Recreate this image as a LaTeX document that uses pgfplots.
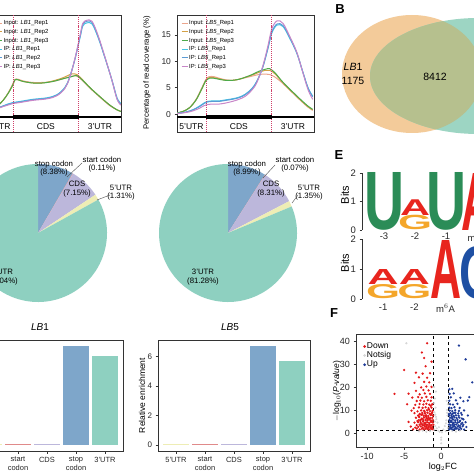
\documentclass[border={-100pt -100pt -126pt -126pt}]{standalone}
\usepackage{pgfplots}
\pgfplotsset{compat=1.18}
\usepackage{fontspec}
\setmainfont{Liberation Sans}
\usepackage{graphicx}

\definecolor{inA}{HTML}{EBA58C}
\definecolor{inB}{HTML}{D4A046}
\definecolor{inC}{HTML}{4DAA4A}
\definecolor{ipA}{HTML}{45C3E3}
\definecolor{ipB}{HTML}{5B9BD5}
\definecolor{ipC}{HTML}{C886C8}
\definecolor{c5}{HTML}{EEEDB5}
\definecolor{cst}{HTML}{E08A8A}
\definecolor{ccds}{HTML}{BCB7DB}
\definecolor{csp}{HTML}{7EA6CA}
\definecolor{c3}{HTML}{8ED0C0}
\definecolor{vOr}{HTML}{F3CB9A}
\definecolor{vGr}{HTML}{9DD5C3}
\definecolor{vOl}{HTML}{B6C08E}
\definecolor{lgU}{HTML}{2B8C57}
\definecolor{lgA}{HTML}{E8251E}
\definecolor{lgG}{HTML}{F4A62A}
\definecolor{lgC}{HTML}{1E4FA3}
\definecolor{vRed}{HTML}{E31A1C}
\definecolor{vBlue}{HTML}{1F3C98}
\definecolor{vGrey}{HTML}{D6D6D6}
\definecolor{axc}{HTML}{333333}
\definecolor{dotc}{HTML}{D0406A}

\newcommand{\fs}[1]{\fontsize{#1}{#1}\selectfont}

\pgfplotsset{
  base/.style={scale only axis, anchor=south west,
    /pgf/number format/assume math mode=true,
    axis line style={axc, line width=0.8pt},
    tick style={axc, line width=0.6pt},
    major tick length=2.5pt, tick align=outside,
    ticklabel style={font=\fs{8}, text=black!85}},
  meta/.style={base, width=137pt, height=117pt,
    xmin=0.56, xmax=2.64, ymin=-3.4, ymax=18.8,
    xtick=\empty, ytick={0,5,10,15}, ytick pos=left,
    ticklabel style={font=\fs{8.5}},
    legend style={at={(rel axis cs:0.03,0.965)}, anchor=north west, draw=none, fill=none,
      font=\fs{5.9}, inner sep=0pt, outer sep=0pt, row sep=0.7pt,
      nodes={inner sep=1pt, text height=4.6pt, text depth=1.4pt}},
    legend cell align=left,
    legend image code/.code={\draw[##1, line width=1pt] (0pt,0pt) -- (6pt,0pt);},
    every axis plot/.append style={smooth, line width=1pt, tension=0.55},
  },
  bars/.style={base, width=152pt, height=111pt,
    xmin=-0.62, xmax=4.62, ymin=-0.41, ymax=7.14,
    xtick={0,1,2,3,4}, xticklabels={5'UTR,start\\codon,CDS,stop\\codon,3'UTR},
    xticklabel style={align=center, font=\fontsize{7.5}{8.5}\selectfont},
    ytick={0,2,4,6}, xtick pos=bottom, ytick pos=left},
  logo/.style={base, width=146pt, ymin=0, ymax=2,
    axis x line*=bottom, axis y line*=left, x axis line style={draw=none},
    xtick={0,1,2,3}, xtick style={draw=none}, ytick={0,1,2}, clip=false,
    ticklabel style={font=\fs{9.5}}},
  volc/.style={base, width=174pt, height=112pt,
    xmin=-11.5, xmax=12, ymin=-6.1, ymax=42.6,
    xtick={-10,-5,0,5,10}, ytick={0,10,20,30,40}, xtick pos=bottom, ytick pos=left,
    ticklabel style={font=\fs{9}},
    axis line style={axc, line width=1pt},
    xlabel={log$_2$FC}, xlabel style={font=\fs{9}, yshift=3pt},
    legend style={at={(rel axis cs:0.04,0.94)}, anchor=north west, draw=none, fill=none,
      font=\fs{8.5}, inner sep=0pt, row sep=0pt,
      nodes={inner sep=0.8pt, text height=6pt, text depth=1.5pt}},
    legend cell align=left,
    legend image code/.code={\draw[mark repeat=2,mark phase=2,##1] plot coordinates {(0pt,0pt) (2pt,0pt) (4pt,0pt)};},
    legend image post style={mark size=1.5pt}},
}

\newcommand{\piechart}[3]{%
  \begin{scope}[shift={(#1pt,#2pt)}]
  \gdef\pieang{90}%
  \foreach \p/\c in {#3}{%
    \pgfmathsetmacro\pieend{\pieang-3.6*\p}%
    \fill[\c] (0pt,0pt) -- (\pieang:69pt) arc[start angle=\pieang, end angle=\pieend, radius=69pt] -- cycle;
    \global\let\pieang\pieend
  }%
  \end{scope}}

\newcommand{\letter}[6]{% x, y0, width, height, colour, letter
  \node[inner sep=0pt, outer sep=0pt, anchor=south] at (axis cs:#1,#2) {\resizebox{#3pt}{#4pt}{\bfseries\color{#5}#6}};}

\begin{document}
\begin{tikzpicture}
\path (-100pt,-100pt) rectangle (600pt,600pt);

%================ A left (LB1)
\begin{axis}[meta, at={(-16pt,342pt)}, legend style={at={(rel axis cs:0.085,0.965)}}]
\addplot[inA] coordinates {(0.56,0.4) (0.65,0.7) (0.75,1.4) (0.85,2.6) (0.93,4.1) (1.0,5.8) (1.03,6.6) (1.08,6.6) (1.15,6.3) (1.3,6.0) (1.45,6.0) (1.61,6.2) (1.76,6.7) (1.89,7.2) (1.97,7.2) (2.05,6.4) (2.17,4.9) (2.32,3.2) (2.47,1.6) (2.58,0.8) (2.64,0.5)};
\addlegendentry{Input: \textit{LB1}\_Rep1}
\addplot[inB] coordinates {(0.56,0.4) (0.65,0.7) (0.75,1.4) (0.85,2.6) (0.93,4.0) (1.0,5.6) (1.03,6.5) (1.08,6.5) (1.15,6.2) (1.3,5.9) (1.45,5.9) (1.61,6.3) (1.76,6.9) (1.89,7.6) (1.97,7.5) (2.05,6.6) (2.17,5.0) (2.32,3.3) (2.47,1.7) (2.58,0.8) (2.64,0.5)};
\addlegendentry{Input: \textit{LB1}\_Rep2}
\addplot[inC] coordinates {(0.56,0.4) (0.65,0.7) (0.75,1.4) (0.85,2.6) (0.93,4.0) (1.0,5.6) (1.03,6.5) (1.08,6.5) (1.15,6.2) (1.3,5.9) (1.45,5.9) (1.61,6.2) (1.76,6.7) (1.89,7.1) (1.97,7.3) (2.05,6.5) (2.17,5.0) (2.32,3.3) (2.47,1.7) (2.58,0.8) (2.64,0.5)};
\addlegendentry{Input: \textit{LB1}\_Rep3}
\addplot[ipA] coordinates {(0.56,0.3) (0.7,0.7) (0.8,1.3) (0.92,1.9) (1.0,2.2) (1.11,2.4) (1.3,2.8) (1.52,3.1) (1.67,3.7) (1.79,5.1) (1.86,7.0) (1.94,10.4) (2.02,14.6) (2.06,16.7) (2.12,17.3) (2.2,17.1) (2.29,14.6) (2.39,10.9) (2.5,6.6) (2.58,3.1) (2.64,2.0)};
\addlegendentry{IP: \textit{LB1}\_Rep1}
\addplot[ipB] coordinates {(0.56,0.3) (0.7,0.7) (0.8,1.3) (0.92,1.8) (1.0,2.1) (1.11,2.3) (1.3,2.7) (1.52,3.0) (1.67,3.6) (1.79,5.0) (1.86,6.9) (1.94,10.4) (2.02,14.8) (2.06,17.0) (2.12,17.6) (2.2,17.4) (2.29,14.8) (2.39,11.0) (2.5,6.5) (2.58,2.9) (2.64,1.8)};
\addlegendentry{IP: \textit{LB1}\_Rep2}
\addplot[ipC] coordinates {(0.56,0.3) (0.7,0.6) (0.8,1.2) (0.92,1.7) (1.0,2.0) (1.11,2.2) (1.3,2.6) (1.52,2.9) (1.67,3.5) (1.79,4.9) (1.86,6.9) (1.94,10.5) (2.02,15.0) (2.06,17.2) (2.12,17.8) (2.2,17.6) (2.29,15.0) (2.39,11.1) (2.5,6.5) (2.58,2.8) (2.64,1.7)};
\addlegendentry{IP: \textit{LB1}\_Rep3}
\addplot[dotc, densely dotted, line width=0.7pt, forget plot] coordinates {(1,-3.4) (1,18.8)};
\addplot[dotc, densely dotted, line width=0.7pt, forget plot] coordinates {(2,-3.4) (2,18.8)};
\addplot[black, line width=2.5pt, forget plot, sharp plot] coordinates {(0.56,-0.6) (2.64,-0.6)};
\addplot[black, line width=3.5pt, forget plot, sharp plot] coordinates {(1,-0.6) (2,-0.6)};
\node[font=\fs{8.5}] at (axis cs:0.78,-2.3) {5'UTR};
\node[font=\fs{8.5}] at (axis cs:1.5,-2.3) {CDS};
\node[font=\fs{8.5}] at (axis cs:2.32,-2.3) {3'UTR};
\end{axis}

%================ A right (LB5)
\begin{axis}[meta, at={(177pt,342pt)}]
\addplot[inA] coordinates {(0.56,0.2) (0.65,0.5) (0.75,1.2) (0.85,2.8) (0.93,4.8) (1.0,6.6) (1.05,7.1) (1.12,7.1) (1.2,6.8) (1.3,6.5) (1.4,6.4) (1.5,6.6) (1.6,6.9) (1.7,7.2) (1.8,7.5) (1.9,7.6) (1.97,7.5) (2.05,7.0) (2.15,6.0) (2.25,4.8) (2.35,3.6) (2.45,2.4) (2.55,1.3) (2.62,0.7)};
\addlegendentry{Input: \textit{LB5}\_Rep1}
\addplot[inB] coordinates {(0.56,0.2) (0.65,0.5) (0.75,1.2) (0.85,2.7) (0.93,4.6) (1.0,6.4) (1.05,6.9) (1.12,6.9) (1.2,6.7) (1.3,6.4) (1.4,6.4) (1.5,6.6) (1.6,7.0) (1.7,7.4) (1.8,7.9) (1.9,8.3) (1.97,8.3) (2.05,7.6) (2.15,6.2) (2.25,4.9) (2.35,3.7) (2.45,2.5) (2.55,1.4) (2.62,0.8)};
\addlegendentry{Input: \textit{LB5}\_Rep2}
\addplot[inC] coordinates {(0.56,0.2) (0.65,0.5) (0.75,1.2) (0.85,2.7) (0.93,4.6) (1.0,6.4) (1.05,6.8) (1.12,6.8) (1.2,6.6) (1.3,6.4) (1.4,6.4) (1.5,6.6) (1.6,7.0) (1.7,7.5) (1.8,8.1) (1.9,8.5) (1.97,8.6) (2.05,7.8) (2.15,6.3) (2.25,5.0) (2.35,3.8) (2.45,2.6) (2.55,1.5) (2.62,0.9)};
\addlegendentry{Input: \textit{LB5}\_Rep3}
\addplot[ipA] coordinates {(0.56,0.1) (0.7,0.4) (0.8,0.8) (0.9,1.5) (0.97,2.1) (1.02,2.4) (1.1,2.5) (1.2,2.5) (1.3,2.7) (1.4,2.9) (1.5,3.2) (1.6,3.8) (1.7,4.9) (1.77,6.2) (1.86,8.8) (1.94,12.4) (2.0,15.4) (2.08,16.9) (2.17,16.6) (2.27,14.4) (2.38,11.5) (2.47,8.0) (2.55,5.0) (2.62,3.4)};
\addlegendentry{IP: \textit{LB5}\_Rep1}
\addplot[ipB] coordinates {(0.56,0.1) (0.7,0.4) (0.8,0.8) (0.9,1.4) (0.97,2.0) (1.02,2.3) (1.1,2.4) (1.2,2.4) (1.3,2.6) (1.4,2.8) (1.5,3.1) (1.6,3.7) (1.7,4.8) (1.77,6.1) (1.86,8.8) (1.94,12.5) (2.0,15.6) (2.08,17.1) (2.17,16.8) (2.27,14.6) (2.38,11.6) (2.47,8.0) (2.55,4.9) (2.62,3.3)};
\addlegendentry{IP: \textit{LB5}\_Rep1}
\addplot[ipC] coordinates {(0.56,0.1) (0.7,0.3) (0.8,0.6) (0.9,1.1) (0.97,1.6) (1.02,1.8) (1.1,1.9) (1.2,1.9) (1.3,2.1) (1.4,2.4) (1.5,2.8) (1.6,3.4) (1.7,4.6) (1.77,5.9) (1.86,9.0) (1.94,12.9) (2.0,16.2) (2.08,17.7) (2.17,17.2) (2.27,14.8) (2.38,11.7) (2.47,7.9) (2.55,4.6) (2.62,2.8)};
\addlegendentry{IP: \textit{LB5}\_Rep3}
\addplot[dotc, densely dotted, line width=0.7pt, forget plot] coordinates {(1,-3.4) (1,18.8)};
\addplot[dotc, densely dotted, line width=0.7pt, forget plot] coordinates {(2,-3.4) (2,18.8)};
\addplot[black, line width=2.5pt, forget plot, sharp plot] coordinates {(0.56,-0.6) (2.64,-0.6)};
\addplot[black, line width=3.5pt, forget plot, sharp plot] coordinates {(1,-0.6) (2,-0.6)};
\node[font=\fs{8.5}] at (axis cs:0.78,-2.3) {5'UTR};
\node[font=\fs{8.5}] at (axis cs:1.5,-2.3) {CDS};
\node[font=\fs{8.5}] at (axis cs:2.32,-2.3) {3'UTR};
\end{axis}

%================ D bars
\begin{axis}[bars, at={(-29pt,23pt)}]
\addplot[ybar, bar width=0.9, bar shift=0pt, fill=c5, draw=none] coordinates {(0,0.1)};
\addplot[ybar, bar width=0.9, bar shift=0pt, fill=cst, draw=none] coordinates {(1,0.1)};
\addplot[ybar, bar width=0.9, bar shift=0pt, fill=ccds, draw=none] coordinates {(2,0.1)};
\addplot[ybar, bar width=0.9, bar shift=0pt, fill=csp, draw=none] coordinates {(3,6.73)};
\addplot[ybar, bar width=0.9, bar shift=0pt, fill=c3, draw=none] coordinates {(4,6.05)};
\end{axis}
\begin{axis}[bars, at={(158pt,23pt)}]
\addplot[ybar, bar width=0.9, bar shift=0pt, fill=c5, draw=none] coordinates {(0,0.1)};
\addplot[ybar, bar width=0.9, bar shift=0pt, fill=cst, draw=none] coordinates {(1,0.1)};
\addplot[ybar, bar width=0.9, bar shift=0pt, fill=ccds, draw=none] coordinates {(2,0.1)};
\addplot[ybar, bar width=0.9, bar shift=0pt, fill=csp, draw=none] coordinates {(3,6.73)};
\addplot[ybar, bar width=0.9, bar shift=0pt, fill=c3, draw=none] coordinates {(4,5.71)};
\end{axis}

%================ E logos
\begin{axis}[logo, at={(362pt,244pt)}, height=57pt, xmin=-0.71, xmax=4,
  xticklabels={-3,-2,-1,m$^6$A}, xticklabel style={yshift=3pt}]
\letter{0}{0}{40}{57}{lgU}{U}
\letter{1}{0}{34}{14.3}{lgG}{G}
\letter{1}{0.5}{30}{15.7}{lgA}{A}
\letter{2}{0}{40}{57}{lgU}{U}
\letter{3}{0}{31}{57}{lgA}{A}
\end{axis}
\begin{axis}[logo, at={(362pt,175pt)}, height=60pt, xmin=-0.68, xmax=4,
  xticklabels={-1,-2,m$^6$A,-}, xticklabel style={yshift=1pt}]
\letter{0}{0}{34}{14}{lgG}{G}
\letter{0}{0.47}{31}{15}{lgA}{A}
\letter{1}{0}{34}{14}{lgG}{G}
\letter{1}{0.47}{31}{15}{lgA}{A}
\letter{2}{0}{31}{58}{lgA}{A}
\letter{3}{0}{35}{52}{lgC}{C}
\end{axis}

%================ F volcano
\begin{axis}[volc, at={(356pt,27pt)}]
\addplot[only marks, mark=*, mark size=1.3pt, vRed, draw opacity=0] coordinates {
(-1.1,1.6) (-1.35,1.8) (-1.6,1.5) (-1.85,1.7) (-2.1,1.9) (-2.35,1.6) (-2.6,1.8) (-2.9,1.5) (-3.3,1.9) (-3.8,1.6)
(-1.2,2.6) (-1.45,2.4) (-1.7,2.8) (-1.95,2.5) (-2.2,2.7) (-2.5,2.4) (-2.75,2.9) (-3.1,2.6) (-3.5,2.3) (-4.1,2.8)
(-1.05,3.6) (-1.3,3.4) (-1.55,3.8) (-1.8,3.5) (-2.05,3.7) (-2.3,3.3) (-2.6,3.9) (-2.9,3.6) (-3.3,3.4)
(-1.15,4.6) (-1.4,4.8) (-1.65,4.4) (-1.9,4.7) (-2.15,4.5) (-2.45,4.9) (-2.75,4.4) (-3.1,4.7) (-3.6,4.5) (-4.4,4.8)
(-1.1,5.6) (-1.35,5.4) (-1.6,5.8) (-1.85,5.5) (-2.1,5.7) (-2.4,5.3) (-2.7,5.9) (-3.0,5.6)
(-1.2,6.6) (-1.45,6.4) (-1.7,6.8) (-2.0,6.5) (-2.3,6.7) (-2.6,6.3) (-2.95,6.9) (-3.4,6.6)
(-1.1,7.6) (-1.4,7.8) (-1.75,7.4) (-2.05,7.7) (-2.35,7.5) (-2.7,7.9) (-3.1,7.6)
(-1.25,8.6) (-1.55,8.4) (-1.85,8.8) (-2.2,8.5) (-2.55,8.7) (-2.9,8.3) (-3.6,8.6)
(-1.15,9.7) (-1.5,9.5) (-1.9,9.9) (-2.3,9.6) (-2.7,9.8) (-3.2,9.4) (-4.0,9.7)
(-1.3,11.0) (-1.7,10.8) (-2.1,11.2) (-2.5,10.9) (-3.0,11.1) (-3.7,10.8)
(-1.2,12.5) (-1.6,12.3) (-2.0,12.7) (-2.4,12.4) (-2.9,12.6) (-3.5,12.2) (-4.6,12.5)
(-1.4,14.0) (-1.8,14.2) (-2.3,13.8) (-2.8,14.1) (-3.3,13.9)
(-1.3,15.5) (-2.0,15.7) (-2.6,15.3) (-3.1,15.6) (-3.9,15.4)
(-1.5,17.0) (-2.2,17.2) (-2.9,16.8) (-4.4,17.1) (-6.3,17.0)
(-1.7,18.5) (-2.4,18.7) (-3.4,18.3) (-1.3,20.0) (-2.0,20.2) (-2.7,19.8)
(-1.6,22.0) (-2.3,22.2) (-3.6,21.8) (-1.9,24.0) (-3.0,24.2) (-1.5,26.0) (-2.5,25.8) (-3.4,26.2)
(-5.0,27.4) (-2.1,29.0) (-1.3,31.0) (-2.3,32.6) (-2.6,35.0) (-1.9,39.0)
(-1.25,2.1) (-1.5,3.1) (-1.75,2.2) (-2.0,3.0) (-2.25,4.1) (-1.3,5.1) (-1.55,6.1) (-1.8,6.2) (-2.05,7.2) (-1.35,8.1)
(-2.45,6.0) (-2.2,9.1) (-1.65,10.2) (-2.5,3.5) (-2.8,5.2) (-1.2,9.0) (-1.4,11.8) (-2.6,8.0) (-3.2,5.2) (-3.0,7.2)
};
\addlegendentry{Down}
\addplot[only marks, mark=*, mark size=1.2pt, vGrey, draw opacity=0] coordinates {
(-0.9,1.5) (-0.8,3.0) (-0.85,5.0) (-0.7,7.0) (-0.9,9.0) (-0.6,2.0) (-0.5,4.5) (-0.75,11.0) (-0.4,1.0) (-0.3,2.5)
(0.3,1.5) (0.5,3.0) (0.7,5.5) (0.85,7.5) (0.9,2.2) (0.6,0.8) (0.8,10.0) (0.9,12.5) (-0.95,13.0) (-0.2,0.5)
(0.1,0.3) (0.0,-2.0) (0.0,-3.0) (0.0,-4.5) (-1.5,0.8) (-2.0,0.5) (-2.5,1.0) (-3.0,0.7) (1.5,0.9) (2.0,0.6)
(2.5,1.1) (-4.7,39.0) (-0.85,15.0) (-0.7,18.0) (0.75,14.0) (-0.95,20.0) (-0.65,6.0) (0.65,4.2) (0.8,8.8) (-0.8,8.0)
};
\addlegendentry{Notsig}
\addplot[only marks, mark=*, mark size=1.3pt, vBlue, draw opacity=0] coordinates {
(1.1,1.6) (1.35,1.8) (1.6,1.5) (1.85,1.7) (2.1,1.9) (2.4,1.6) (2.7,1.8) (3.1,1.5)
(1.2,2.6) (1.45,2.4) (1.7,2.8) (1.95,2.5) (2.25,2.7) (2.55,2.4) (2.9,2.9) (3.4,2.6)
(1.05,3.6) (1.3,3.4) (1.55,3.8) (1.8,3.5) (2.05,3.7) (2.35,3.3) (2.7,3.9) (3.0,3.6)
(1.15,4.6) (1.4,4.8) (1.65,4.4) (1.9,4.7) (2.2,4.5) (2.5,4.9) (2.85,4.4) (3.3,4.7)
(1.1,5.6) (1.35,5.4) (1.6,5.8) (1.9,5.5) (2.2,5.7) (2.55,5.3) (3.0,5.9)
(1.2,6.6) (1.5,6.4) (1.8,6.8) (2.1,6.5) (2.45,6.7) (2.8,6.3)
(1.1,7.6) (1.4,7.8) (1.7,7.4) (2.0,7.7) (2.35,7.5) (2.8,7.9) (3.6,7.6)
(1.25,8.6) (1.55,8.4) (1.9,8.8) (2.3,8.5) (2.7,8.7)
(1.15,9.7) (1.5,9.5) (1.9,9.9) (2.4,9.6) (3.1,9.8)
(1.1,11.0) (1.4,10.8) (1.8,11.2) (2.5,10.9) (1.2,12.5) (1.6,12.3) (2.2,12.7)
(1.1,14.0) (2.0,14.2) (3.0,13.8) (3.6,14.1) (1.3,15.5) (2.6,15.3) (3.8,15.6)
(1.15,17.0) (1.7,17.2) (1.1,19.0) (1.5,19.2) (4.2,22.0) (3.3,32.0) (2.4,38.0)
(1.3,2.1) (1.6,3.1) (1.35,5.0) (1.95,2.1) (1.65,4.3) (2.25,4.6) (1.45,7.0) (1.75,8.8) (2.55,3.1) (1.05,8.3)
};
\addlegendentry{Up}
\addplot[black, dashed, line width=0.9pt, forget plot] coordinates {(-11.5,1.3) (12,1.3)};
\addplot[black, dashed, line width=0.9pt, forget plot] coordinates {(-1,-6.1) (-1,42.6)};
\addplot[black, dashed, line width=0.9pt, forget plot] coordinates {(1,-6.1) (1,42.6)};
\end{axis}

%================ TikZ decorations (pt units)
\begin{scope}[x=1pt,y=1pt]
\node[rotate=90, font=\fs{7.7}] at (147,401) {Percentage of read coverage (\%)};
% Venn
\fill[vOr] (412,400) ellipse [x radius=70, y radius=59];
\fill[vGr] (478,398) ellipse [x radius=108, y radius=58];
\begin{scope}
\clip (412,400) ellipse [x radius=70, y radius=59];
\fill[vOl] (478,398) ellipse [x radius=108, y radius=58];
\end{scope}
\node[font=\fs{10.5}] at (353,407) {\textit{LB}1};
\node[font=\fs{10.5}] at (353,393) {1175};
\node[font=\fs{10.5}] at (435,397) {8412};
\node[font=\bfseries\fs{13}] at (340,465) {B};
% pies
\piechart{38}{241}{8.38/csp,0.11/cst,7.15/ccds,1.31/c5,83.05/c3}
\piechart{228}{241}{8.99/csp,0.07/cst,8.31/ccds,1.35/c5,81.28/c3}
\begin{scope}[font=\fontsize{7.8}{8.6}\selectfont, align=center, inner sep=0pt]
\node at (54,305.5) {stop codon\\(8.38\%)};
\node at (102,309.5) {start codon\\(0.11\%)};
\node at (77,285) {CDS\\(7.15\%)};
\node at (121,281.5) {5'UTR\\(1.31\%)};
\node at (2,197) {3'UTR\\(83.04\%)};
\node at (247,305.5) {stop codon\\(8.99\%)};
\node at (295,309.5) {start codon\\(0.07\%)};
\node at (271,285) {CDS\\(8.31\%)};
\node at (309,281.5) {5'UTR\\(1.35\%)};
\node at (203,197) {3'UTR\\(81.28\%)};
\end{scope}
\draw[black!70, line width=0.4pt] (67,297) -- (82,311);
\draw[black!70, line width=0.4pt] (97,274) -- (110,279);
\draw[black!70, line width=0.4pt] (263,296) -- (275,309);
\draw[black!70, line width=0.4pt] (292,271) -- (298,279);
% bar titles
\node[font=\fs{10}] at (40,147) {\textit{LB}1};
\node[font=\fs{10}] at (230,147) {\textit{LB}5};
\node[rotate=90, font=\fs{8.5}] at (142,78.5) {Relative enrichment};
% logos
\node[rotate=90, font=\fs{11}] at (345,279) {Bits};
\node[rotate=90, font=\fs{11}] at (345,211) {Bits};
\node[font=\bfseries\fs{13}] at (339,319) {E};
% volcano
\node[rotate=90, font=\fs{8.5}] at (337,83) {$-$log$_{10}$(\textit{P-value})};
\node[font=\bfseries\fs{13}] at (334,161) {F};
\end{scope}
\end{tikzpicture}
\end{document}
